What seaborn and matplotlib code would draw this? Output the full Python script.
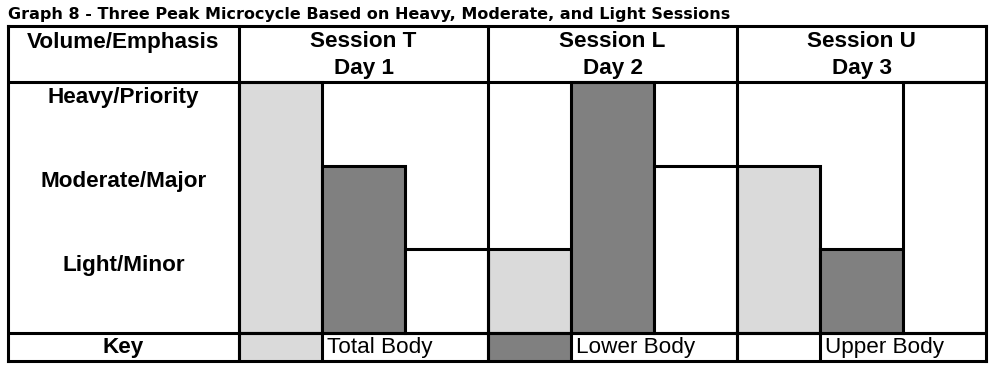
import matplotlib.pyplot as plt
import seaborn as sns
import pandas as pd

sns.set_theme(style="white")
plt.rcParams['font.family'] = ['Liberation Sans', 'DejaVu Sans']

# data
sessions = ["Session T", "Session L", "Session U"]
days = ["Day 1", "Day 2", "Day 3"]
parts = ["Total Body", "Lower Body", "Upper Body"]
total_body = [3, 1, 2]
lower_body = [2, 3, 1]
upper_body = [1, 2, 3]
levels = ["Light/Minor", "Moderate/Major", "Heavy/Priority"]
colores = ["#dadada", "#808080", "#ffffff"]

df = pd.DataFrame({
    'Session': sessions * 3,
    'Part': [p for p in parts for _ in sessions],
    'Level': total_body + lower_body + upper_body,
})

fig = plt.figure(figsize=(10, 3.77), dpi=100)
ax = fig.add_axes([8 / 1000, 1 - 361 / 377, 978 / 1000, 335 / 377])

lw = 2.2
sns.barplot(
    data=df, x='Session', y='Level', hue='Part',
    order=sessions, hue_order=parts, palette=colores,
    width=1, gap=0, errorbar=None, legend=False,
    edgecolor='black', linewidth=lw, ax=ax,
)

label_w = 0.928  # ancho de la columna de etiquetas (en unidades de sesion)
y_top, y_bot = 3.67, -0.335
ax.set_xlim(-0.5 - label_w, len(sessions) - 0.5)
ax.set_ylim(y_bot, y_top)
ax.set_xticks([])
ax.set_yticks([])
ax.set_xlabel('')
ax.set_ylabel('')
for s in ax.spines.values():
    s.set_visible(True)
    s.set_color('black')
    s.set_linewidth(lw)

# lineas de la tabla
ax.axhline(3, color='black', lw=lw, zorder=5)
ax.axhline(0, color='black', lw=lw, zorder=5)
for i in range(len(sessions)):
    ax.axvline(i - 0.5, color='black', lw=lw, zorder=5)

# encabezados
fs = 16.2
xc_label = -0.5 - label_w / 2
hdr = dict(ha='center', va='center', fontsize=fs, fontweight='bold', color='black')
ax.text(xc_label, 3.47, "Volume/Emphasis", **hdr)
for i, (s, d) in enumerate(zip(sessions, days)):
    ax.text(i, 3.48, s, **hdr)
    ax.text(i, 3.16, d, **hdr)
for k, lab in enumerate(levels):
    ax.text(xc_label, k + 1 - 0.19, lab, **hdr)

# fila de la clave
ax.text(xc_label, y_bot / 2 - 0.01, "Key", **hdr)
ax.bar([i - 0.5 for i in range(len(sessions))], height=-y_bot, bottom=y_bot,
       width=1 / 3, align='edge', color=colores, edgecolor='black', linewidth=lw, zorder=4)
for i, p in enumerate(parts):
    ax.text(i - 0.5 + 1 / 3 + 0.02, y_bot / 2 - 0.01, p, ha='left', va='center', fontsize=fs, color='black')

fig.text(8 / 1000, 1 - 14 / 377, "Graph 8 - Three Peak Microcycle Based on Heavy, Moderate, and Light Sessions",
         ha='left', va='center', fontsize=11.5, fontweight='bold', color='black', family=['DejaVu Sans'])

fig.savefig('out.png', dpi=100)
